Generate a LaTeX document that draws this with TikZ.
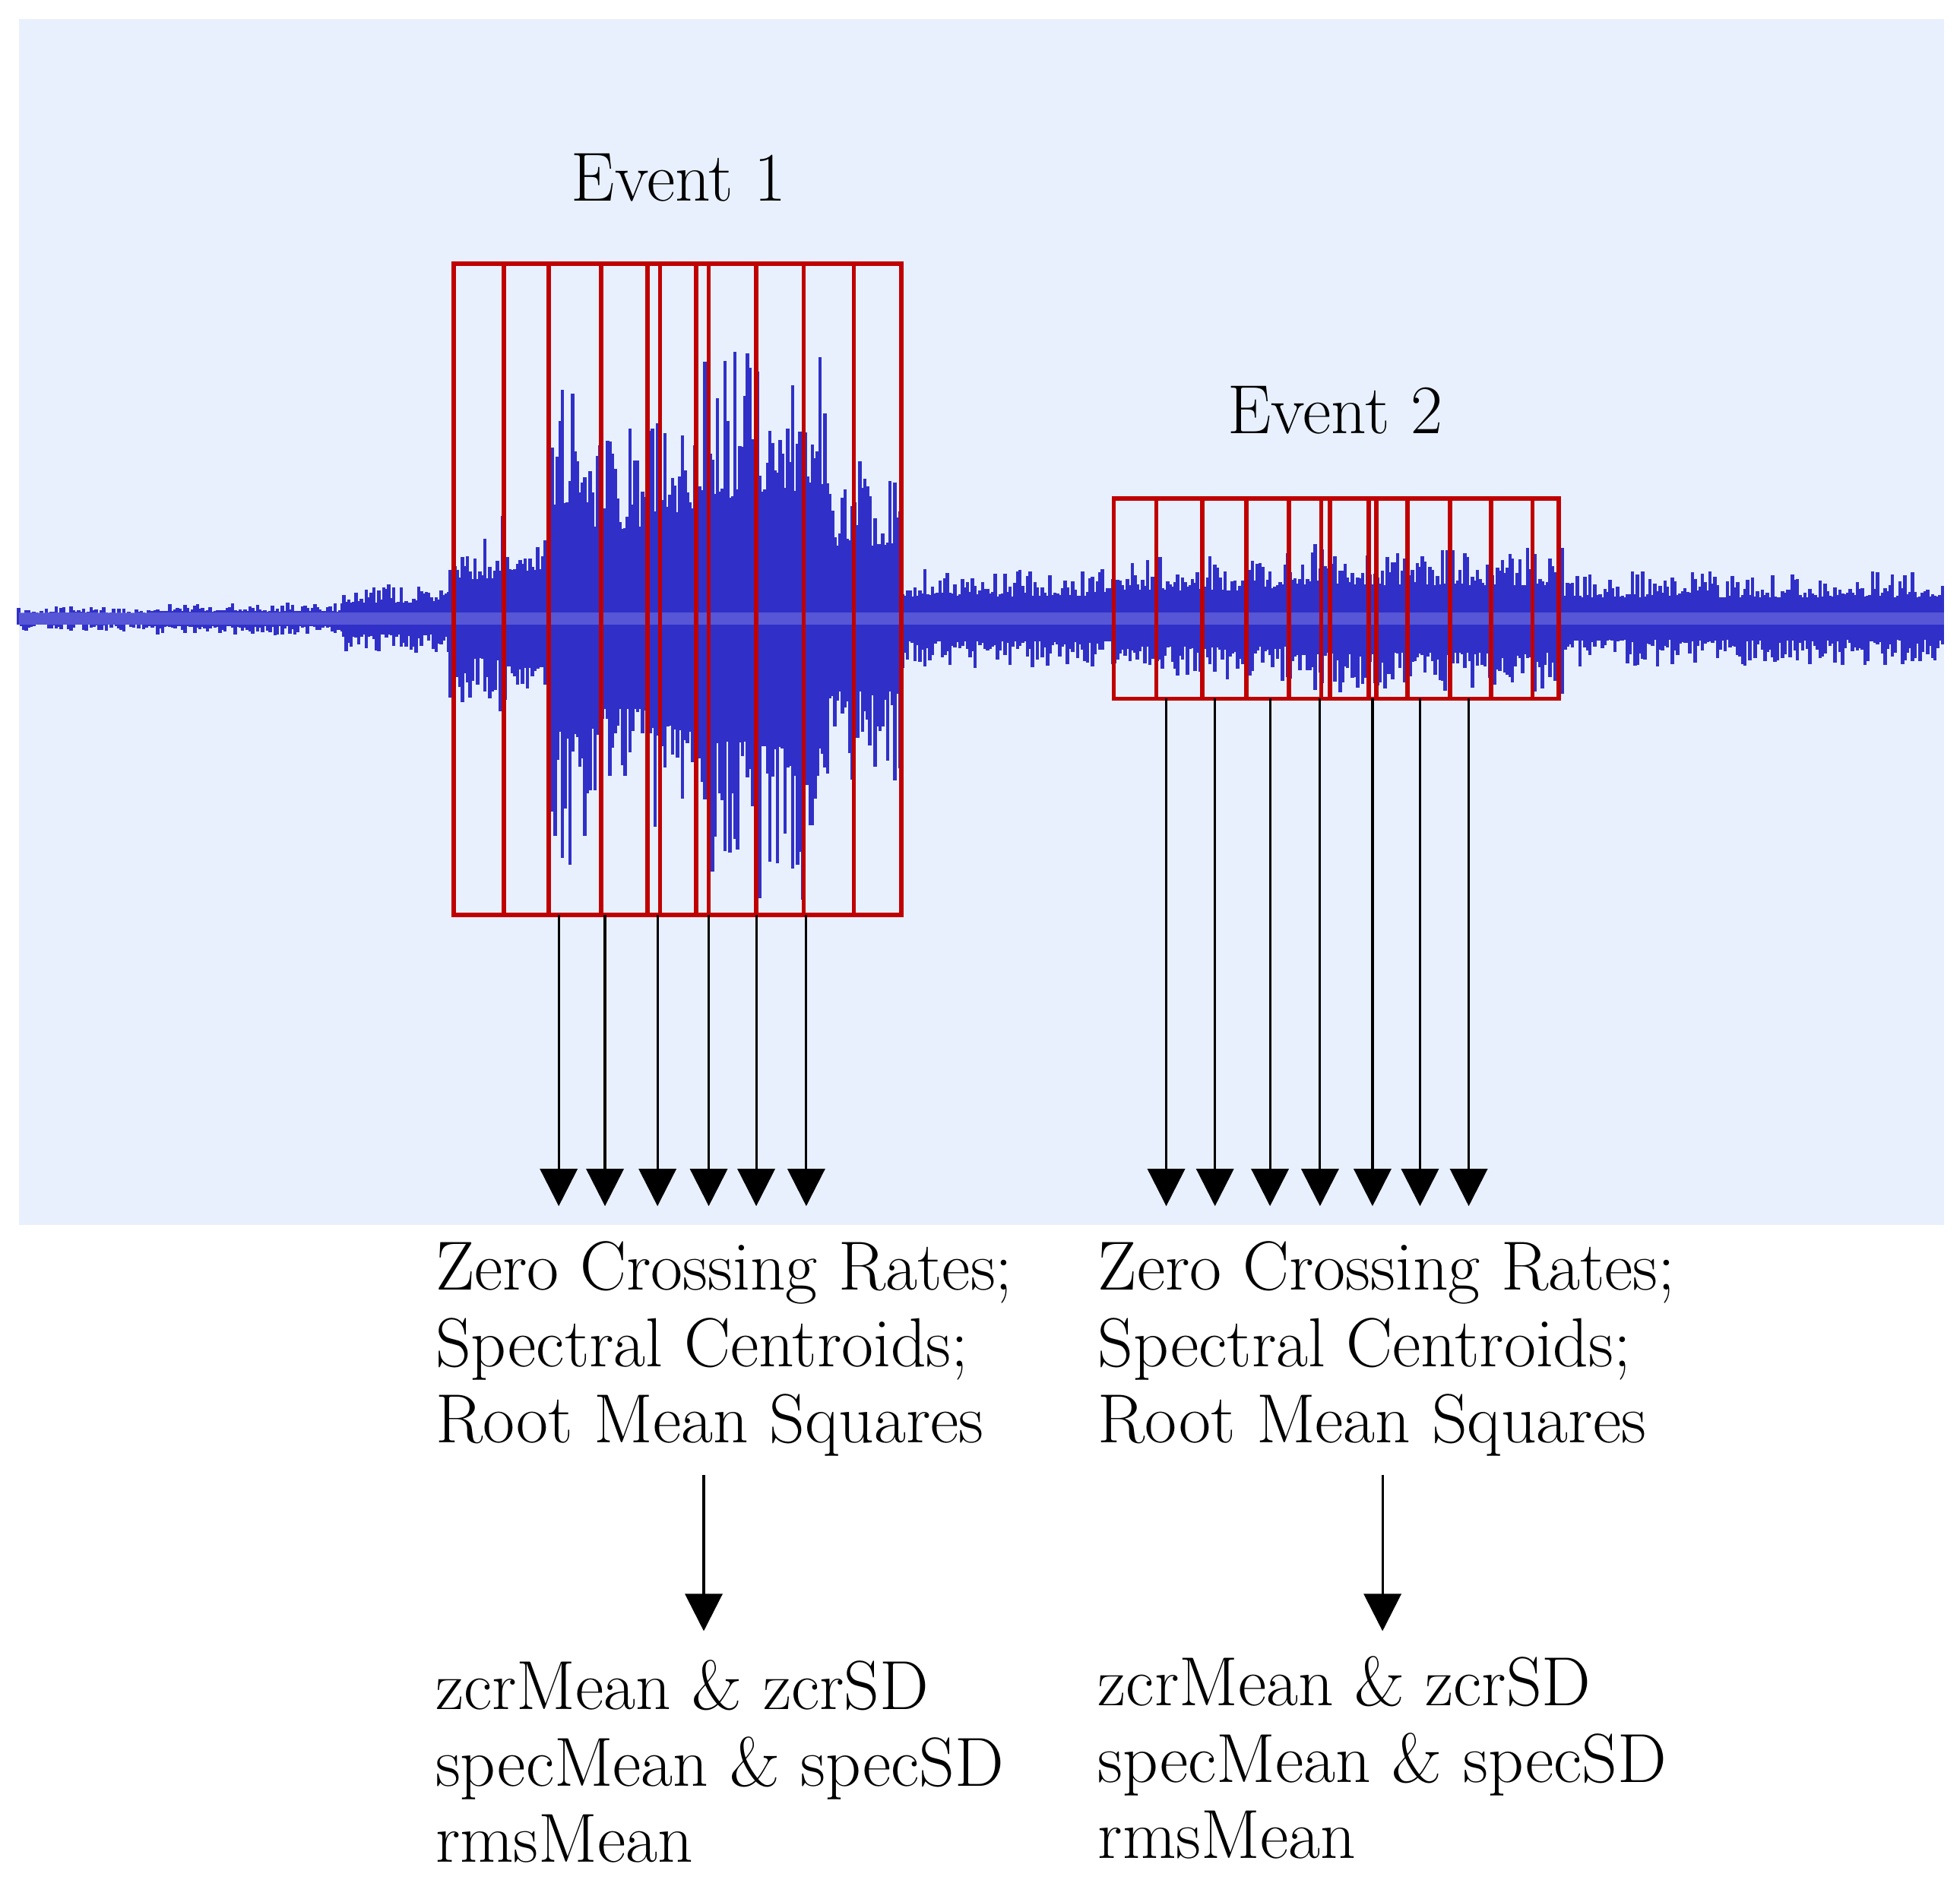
\documentclass[tikz,border=0pt]{standalone}
\usetikzlibrary{arrows.meta}
\definecolor{bgc}{HTML}{E8F0FE}
\definecolor{wav}{HTML}{3030C8}
\definecolor{wavl}{HTML}{7070E0}
\definecolor{frm}{HTML}{C00000}
\tikzset{px/.style={x=0.01645cm,y=-0.01645cm},
 frame/.style={draw=frm,line width=1.6pt},
 arr/.style={draw=black,line width=0.9pt,-{Triangle[length=14pt,width=14pt]}},
 lbl/.style={anchor=north west,align=left,inner sep=0pt,font=\fontsize{26}{28.5}\selectfont}}
\begin{document}
\begin{tikzpicture}[px]
\useasboundingbox (0,0) rectangle (1568,1504);
\fill[bgc] (15,15) rectangle (1555,980);
\pgfmathsetseed{7}
\foreach \a/\b/\amp in {15/120/10,120/275/13,275/360/28,360/400/70,400/440/85,440/470/200,470/520/160,520/560/190,560/600/215,600/660/225,660/720/130,720/890/40,890/1030/50,1030/1250/60,1250/1555/38}{
  \foreach \x in {\a,\numexpr\a+2\relax,...,\b}{
    \pgfmathsetmacro\hu{\amp*(0.45+0.55*rnd^2)}
    \pgfmathsetmacro\hd{\amp*(0.45+0.55*rnd^2)}
    \draw[wav,line width=1.3pt] (\x,495-\hu) -- (\x,495+\hd);
  }
}
\fill[wavl,opacity=0.6] (15,490) rectangle (1555,500);
% event 1
\node[font=\fontsize{26}{30}\selectfont] (e1) at (543,142) {Event 1};
\draw[frame] (363,211) rectangle (721,732);
\foreach \x in {403,439,481,518,528,557,567,605,643,683}{\draw[frame] (\x,211) -- (\x,732);}
\foreach \x [count=\i] in {447,484,526,567,605,645}{
  \coordinate (s1\i) at (\x,732); \coordinate (t1\i) at (\x,965);
  \draw[arr] (s1\i) -- (t1\i);}
% event 2
\node[font=\fontsize{26}{30}\selectfont] (e2) at (1068,328) {Event 2};
\draw[frame] (891,399) rectangle (1247,559);
\foreach \x in {925,962,997,1031,1057,1064,1095,1101,1126,1160,1193,1226}{\draw[frame] (\x,399) -- (\x,559);}
\foreach \x [count=\i] in {933,972,1016,1056,1098,1136,1175}{
  \coordinate (s2\i) at (\x,559); \coordinate (t2\i) at (\x,965);
  \draw[arr] (s2\i) -- (t2\i);}
% texts
\node[lbl] (f1) at (348,993) {Zero Crossing Rates;\\Spectral Centroids;\\Root Mean Squares};
\node[lbl] (f2) at (878,993) {Zero Crossing Rates;\\Spectral Centroids;\\Root Mean Squares};
\node[lbl] (m1) at (348,1328) {zcrMean \& zcrSD\\specMean \& specSD\\rmsMean};
\node[lbl] (m2) at (878,1325) {zcrMean \& zcrSD\\specMean \& specSD\\rmsMean};
\coordinate (a1) at (563,1180); \coordinate (b1) at (563,1305);
\coordinate (a2) at (1106,1180); \coordinate (b2) at (1106,1305);
\draw[arr] (a1) -- (b1);
\draw[arr] (a2) -- (b2);
\end{tikzpicture}
\end{document}
